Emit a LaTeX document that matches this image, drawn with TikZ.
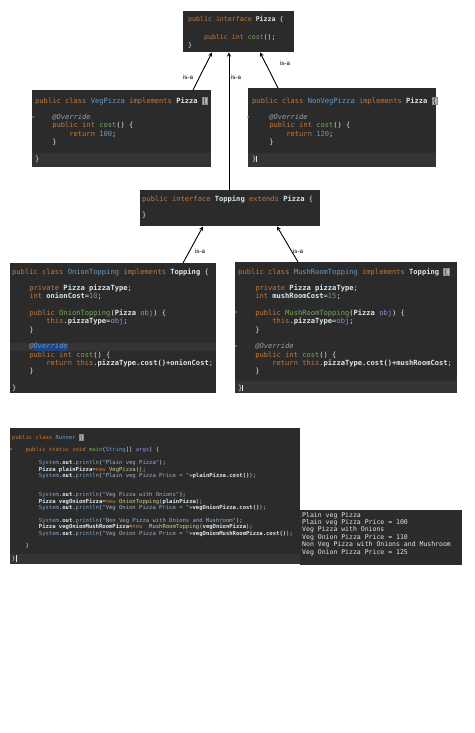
\documentclass[tikz,border=0pt]{standalone}
\usepackage{fontspec}
\setmonofont{DejaVu Sans Mono}
\newfontfamily\isafont{Liberation Sans}
\usepackage{tikz}
\usetikzlibrary{calc}
\usetikzlibrary{arrows}

\definecolor{codebg}{HTML}{2B2B2B}
\definecolor{curbg}{HTML}{343434}
\definecolor{consbg}{HTML}{2C2C2C}
\definecolor{kwcol}{HTML}{C47A3C}
\definecolor{clscol}{HTML}{6A9BC3}
\definecolor{typcol}{HTML}{DCE9EC}
\definecolor{fncol}{HTML}{78A95A}
\definecolor{numcol}{HTML}{6897BB}
\definecolor{anncol}{HTML}{9E9E9E}
\definecolor{prmcol}{HTML}{8C93D0}
\definecolor{strcol}{HTML}{9DB0C8}
\definecolor{syscol}{HTML}{7FA3C8}
\definecolor{ctorcol}{HTML}{D6CF8A}
\definecolor{selbg}{HTML}{214283}
\definecolor{txtcol}{HTML}{E4E4E4}
\definecolor{bracebg}{HTML}{B5B5B5}
\definecolor{bracefr}{HTML}{8A8A8A}
\definecolor{dotcol}{HTML}{8A8A8A}

\newcommand{\jkw}[1]{\textcolor{kwcol}{#1}}
\newcommand{\jcls}[1]{\textcolor{clscol}{#1}}
\newcommand{\jtyp}[1]{\textcolor{typcol}{\bfseries #1}}
\newcommand{\jfn}[1]{\textcolor{fncol}{#1}}
\newcommand{\jnum}[1]{\textcolor{numcol}{#1}}
\newcommand{\jann}[1]{\textcolor{anncol}{\itshape #1}}
\newcommand{\jprm}[1]{\textcolor{prmcol}{#1}}
\newcommand{\jstr}[1]{\textcolor{strcol}{#1}}
\newcommand{\jsys}[1]{\textcolor{syscol}{#1}}
\newcommand{\jctor}[1]{\textcolor{ctorcol}{#1}}
\newcommand{\jsel}[1]{{\setlength{\fboxsep}{0pt}\colorbox{selbg}{\strut\textcolor{clscol}{\itshape #1}}}}
\newcommand{\jtab}{\phantom{0000}}
\newcommand{\bbrace}{{\setlength{\fboxsep}{0.3pt}\setlength{\fboxrule}{0.3pt}\fcolorbox{bracefr}{bracebg}{\textcolor{codebg}{\{}}}}
\newcommand{\jcur}{\textcolor{txtcol}{\rule[-1pt]{0.5pt}{6.5pt}}}

\begin{document}
\begin{tikzpicture}[x=1pt,y=-1pt,
	codebox/.style={rectangle, fill=codebg, draw=none, inner sep=0pt, anchor=north west},
	code/.style={anchor=base west, inner sep=0pt, align=left, text=txtcol, font=\ttfamily\fontsize{7.1}{8.3}\selectfont},
	isa/.style={inner sep=0pt, font=\isafont\fontsize{6.2}{7}\selectfont},
	isaline/.style={->, >=stealth, line width=0.9pt, black},
	curline/.style={fill=curbg, draw=none},
	bpdot/.style={fill=dotcol, draw=none}]

	\fill[white] (0,0) rectangle (474,733);
	\useasboundingbox (0,0) rectangle (474,733);

	% boxes
	\node[codebox, minimum width=111pt, minimum height=41pt] (pizza) at (183,11) {};
	\node[codebox, minimum width=179pt, minimum height=77pt] (vegpizza) at (32,90) {};
	\node[codebox, minimum width=188pt, minimum height=79pt] (nonvegpizza) at (248,88) {};
	\node[codebox, minimum width=180pt, minimum height=36pt] (topping) at (140,190) {};
	\node[codebox, minimum width=206pt, minimum height=130pt] (onion) at (10,263) {};
	\node[codebox, minimum width=222pt, minimum height=131pt] (mushroom) at (235,262) {};
	\node[codebox, minimum width=290pt, minimum height=136pt] (runner) at (10,428) {};
	\node[codebox, fill=consbg, minimum width=162pt, minimum height=55pt] (console) at (300,510) {};

	% current lines
	\fill[curline] ($(vegpizza.south west)+(0,-14)$) rectangle (vegpizza.south east);
	\fill[curline] ($(nonvegpizza.south west)+(0,-14)$) rectangle (nonvegpizza.south east);
	\fill[curline] ($(mushroom.south west)+(0,-12)$) rectangle (mushroom.south east);
	\fill[curline] ($(runner.south west)+(0,-10)$) rectangle (runner.south east);
	\fill[curline] ($(onion.north west)+(0,80)$) rectangle ($(onion.north east)+(0,88)$);

	% breakpoint dots
	\fill[bpdot] ($(vegpizza.north west)+(1,27)$) circle (1);
	\fill[bpdot] ($(nonvegpizza.north west)+(0,29)$) circle (1);
	\fill[bpdot] ($(mushroom.north west)+(1,50)$) circle (1);
	\fill[bpdot] ($(mushroom.north west)+(1,84)$) circle (1);
	\fill[bpdot] ($(runner.north west)+(1,21)$) circle (1);

	% code (placed at the baseline of the last line)
	\node[code, font=\ttfamily\fontsize{6.6}{8.6}\selectfont] (pizza-code) at ($(pizza.north west)+(5,36.8)$) {%
		\jkw{public interface} \jtyp{Pizza} \{\\
		\mbox{}\\
		\jtab\jkw{public int} \jfn{cost}();\\
		\}};

	\node[code] (vegpizza-code) at ($(vegpizza.north west)+(3,71.1)$) {%
		\jkw{public class} \jcls{VegPizza} \jkw{implements} \jtyp{Pizza} \bbrace\\
		\mbox{}\\
		\jtab\jann{@Override}\\
		\jtab\jkw{public int} \jfn{cost}() \{\\
		\jtab\jtab\jkw{return} \jnum{100};\\
		\jtab\}\\
		\mbox{}\\
		\}};

	\node[code] (nonvegpizza-code) at ($(nonvegpizza.north west)+(4,73.1)$) {%
		\jkw{public class} \jcls{NonVegPizza} \jkw{implements} \jtyp{Pizza} \bbrace\\
		\mbox{}\\
		\jtab\jann{@Override}\\
		\jtab\jkw{public int} \jfn{cost}() \{\\
		\jtab\jtab\jkw{return} \jnum{120};\\
		\jtab\}\\
		\mbox{}\\
		\}\jcur};

	\node[code, font=\ttfamily\fontsize{7.1}{8}\selectfont] (topping-code) at ($(topping.north west)+(2,27)$) {%
		\jkw{public interface} \jtyp{Topping} \jkw{extends} \jtyp{Pizza} \{\\
		\mbox{}\\
		\}};

	\node[code] (onion-code) at ($(onion.north west)+(2,127.2)$) {%
		\jkw{public class} \jcls{OnionTopping} \jkw{implements} \jtyp{Topping} \{\\
		\mbox{}\\
		\jtab\jkw{private} \jtyp{Pizza pizzaType};\\
		\jtab\jkw{int} \jtyp{onionCost}=\jnum{10};\\
		\mbox{}\\
		\jtab\jkw{public} \jfn{OnionTopping}(\jtyp{Pizza} \jprm{obj}) \{\\
		\jtab\jtab\jkw{this}.\jtyp{pizzaType}=\jprm{obj};\\
		\jtab\}\\
		\mbox{}\\
		\jtab\jann{@}\jsel{Override}\\
		\jtab\jkw{public int} \jfn{cost}() \{\\
		\jtab\jtab\jkw{return this}.\jtyp{pizzaType.cost()+onionCost};\\
		\jtab\}\\
		\mbox{}\\
		\}};

	\node[code] (mushroom-code) at ($(mushroom.north west)+(3,128.2)$) {%
		\jkw{public class} \jcls{MushRoomTopping} \jkw{implements} \jtyp{Topping} \bbrace\\
		\mbox{}\\
		\jtab\jkw{private} \jtyp{Pizza pizzaType};\\
		\jtab\jkw{int} \jtyp{mushRoomCost}=\jnum{15};\\
		\mbox{}\\
		\jtab\jkw{public} \jfn{MushRoomTopping}(\jtyp{Pizza} \jprm{obj}) \{\\
		\jtab\jtab\jkw{this}.\jtyp{pizzaType}=\jprm{obj};\\
		\jtab\}\\
		\mbox{}\\
		\jtab\jann{@Override}\\
		\jtab\jkw{public int} \jfn{cost}() \{\\
		\jtab\jtab\jkw{return this}.\jtyp{pizzaType.cost()+mushRoomCost};\\
		\jtab\}\\
		\mbox{}\\
		\}\jcur};

	\node[code, font=\ttfamily\fontsize{5.55}{6.4}\selectfont] (runner-code) at ($(runner.north west)+(2,132.6)$) {%
		\jkw{public class} \jcls{Runner} \bbrace\\
		\mbox{}\\
		\jtab\jkw{public static void} \jfn{main}(\jcls{String}[] \jprm{args}) \{\\
		\mbox{}\\
		\jtab\jtab\jsys{System}.\jtyp{out}.\jsys{println}(\jstr{"Plain veg Pizza"});\\
		\jtab\jtab\jtyp{Pizza plainPizza}=\jkw{new} \jctor{VegPizza}();\\
		\jtab\jtab\jsys{System}.\jtyp{out}.\jsys{println}(\jstr{"Plain veg Pizza Price = "}+\jtyp{plainPizza.cost()});\\
		\mbox{}\\
		\mbox{}\\
		\jtab\jtab\jsys{System}.\jtyp{out}.\jsys{println}(\jstr{"Veg Pizza with Onions"});\\
		\jtab\jtab\jtyp{Pizza vegOnionPizza}=\jkw{new} \jctor{OnionTopping}(\jtyp{plainPizza});\\
		\jtab\jtab\jsys{System}.\jtyp{out}.\jsys{println}(\jstr{"Veg Onion Pizza Price = "}+\jtyp{vegOnionPizza.cost()});\\
		\mbox{}\\
		\jtab\jtab\jsys{System}.\jtyp{out}.\jsys{println}(\jstr{"Non Veg Pizza with Onions and Mushroom"});\\
		\jtab\jtab\jtyp{Pizza vegOnionMushRoomPizza}=\jkw{new}\ \ \jctor{MushRoomTopping}(\jtyp{vegOnionPizza});\\
		\jtab\jtab\jsys{System}.\jtyp{out}.\jsys{println}(\jstr{"Veg Onion Pizza Price = "}+\jtyp{vegOnionMushRoomPizza.cost()});\\
		\mbox{}\\
		\jtab\}\\
		\mbox{}\\
		\}\jcur};

	\node[code, font=\ttfamily\fontsize{6.5}{7.4}\selectfont] (console-code) at ($(console.north west)+(2,44)$) {%
		Plain veg Pizza\\
		Plain veg Pizza Price = 100\\
		Veg Pizza with Onions\\
		Veg Onion Pizza Price = 110\\
		Non Veg Pizza with Onions and Mushroom\\
		Veg Onion Pizza Price = 125};

	% is-a arrows
	\draw[isaline] ($(vegpizza.north west)+(161,0)$) -- ($(pizza.south west)+(29,0)$);
	\draw[isaline] ($(topping.north west)+(89,0)$) -- ($(pizza.south west)+(46,0)$);
	\draw[isaline] ($(nonvegpizza.north west)+(30,0)$) -- ($(pizza.south west)+(77,0)$);
	\draw[isaline] ($(onion.north west)+(173,0)$) -- ($(topping.south west)+(63,0)$);
	\draw[isaline] ($(mushroom.north west)+(63,0)$) -- ($(topping.south west)+(137,0)$);

	\node[isa] (isa-veg) at (188,77) {is-a};
	\node[isa] (isa-topping) at (236,77) {is-a};
	\node[isa] (isa-nonveg) at (285,63) {is-a};
	\node[isa] (isa-onion) at (200,251) {is-a};
	\node[isa] (isa-mushroom) at (298,251) {is-a};

\end{tikzpicture}
\end{document}
